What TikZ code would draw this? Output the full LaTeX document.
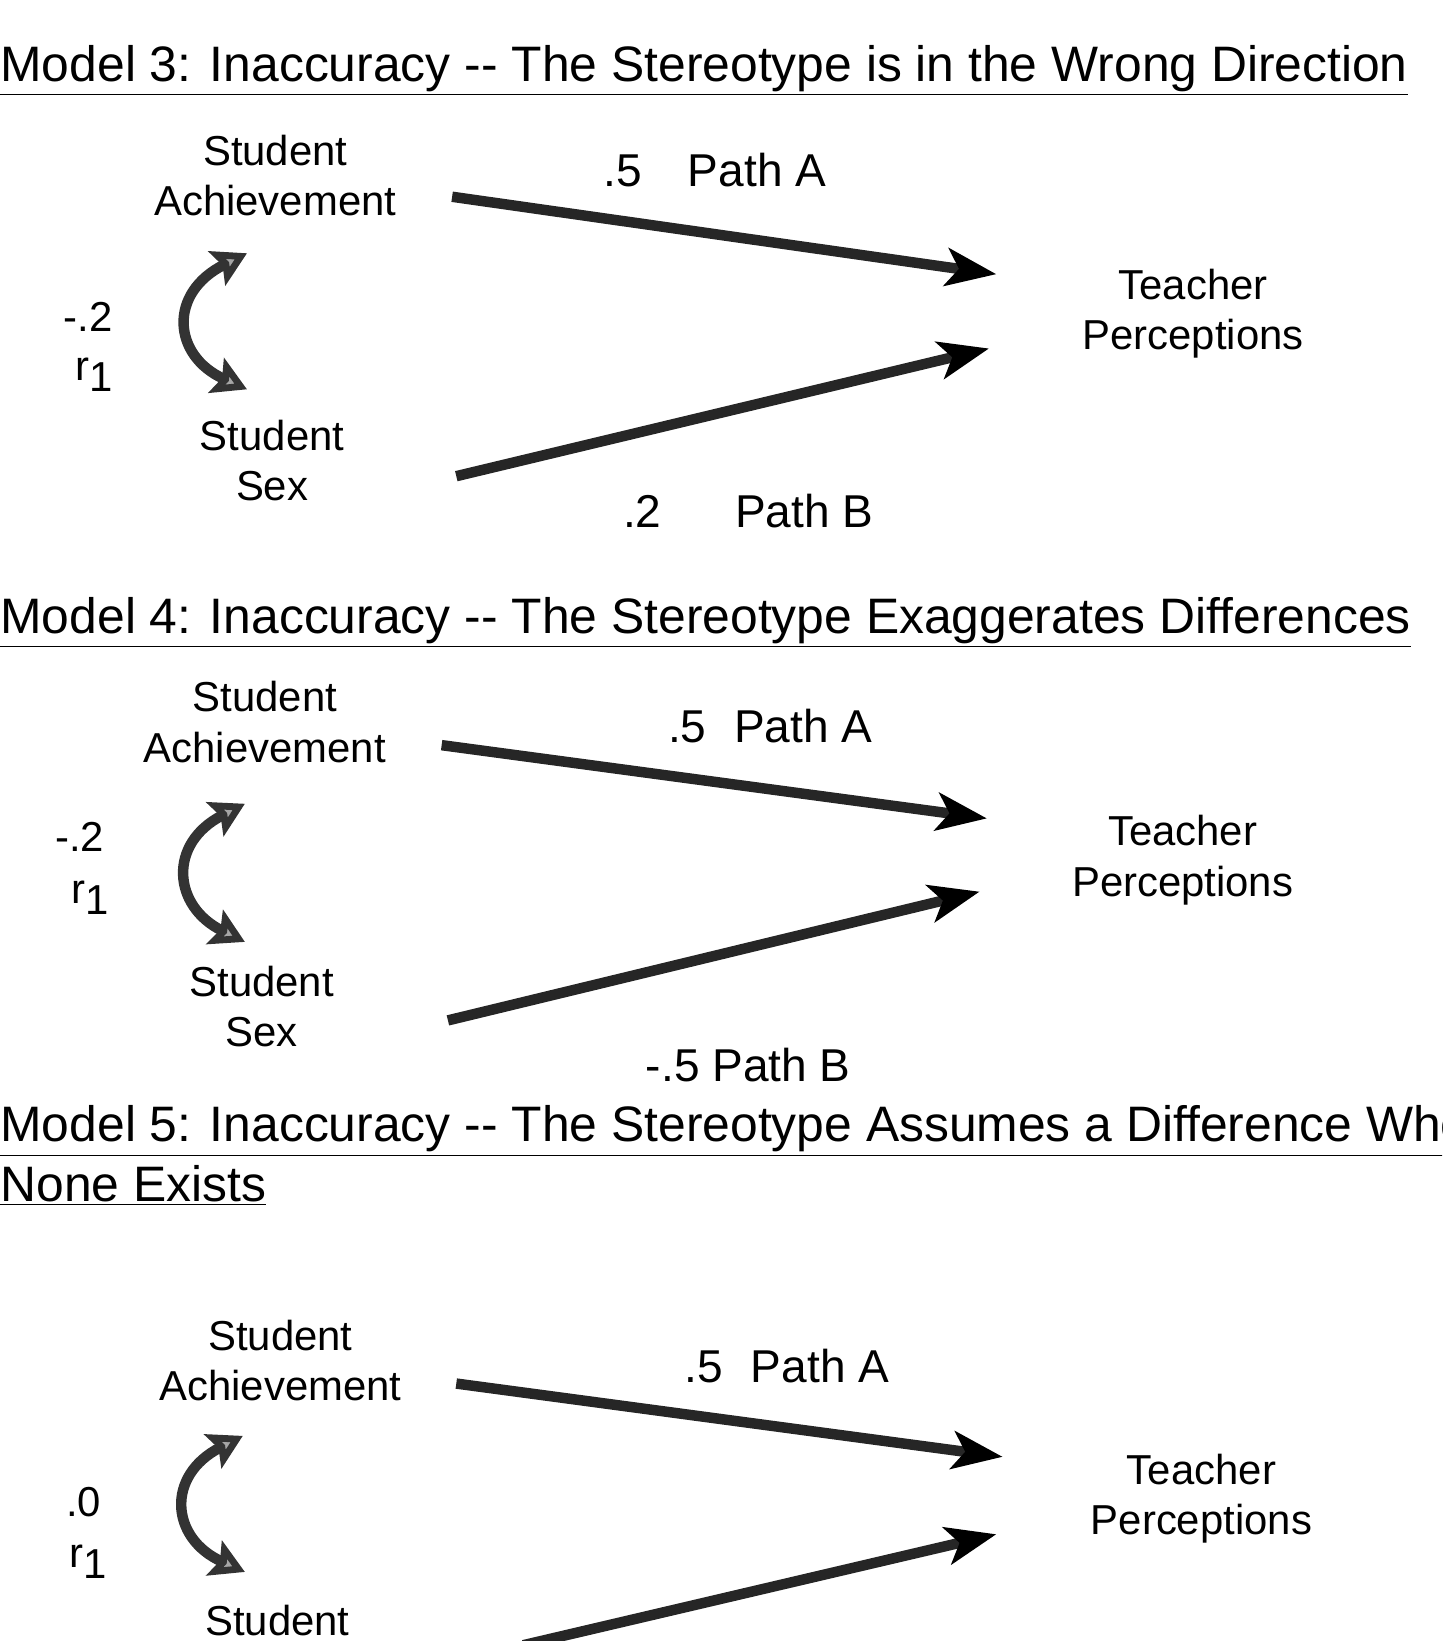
\documentclass[tikz,border=0pt]{standalone}
\usepackage{fontspec}
\setmainfont{Liberation Sans}
\usetikzlibrary{arrows.meta}
\tikzset{
 lbl/.style={font=\fontsize{20}{24}\selectfont, align=center, inner sep=0pt},
 ttl/.style={font=\fontsize{23.8}{28.5}\selectfont, anchor=base west, inner sep=0pt, align=left},
 patharrow/.style={draw=black!85, line width=5pt, -{Stealth[length=24pt,width=18pt,inset=6pt,fill=gray!70,color=black]}},
 corr/.style={draw=black!80, line width=5pt, {Stealth[length=16pt,width=18pt,inset=3pt,fill=gray!70]}-{Stealth[length=16pt,width=18pt,inset=3pt,fill=gray!70]}},
}
\newcommand{\rone}{r\raisebox{-0.5ex}{1}}
\begin{document}
\begin{tikzpicture}[x=0.5pt,y=-0.5pt]
\useasboundingbox (0,0) rectangle (1378,1568);
\clip (0,0) rectangle (1378,1568);
% Model 3
\node[ttl] (t3) at (0,78) {\underline{Model 3: Inaccuracy -{}- The Stereotype is in the Wrong Direction}};
\node[lbl] (sa3) at (263,168) {Student\\Achievement};
\node[lbl] (ss3) at (260,440) {Student\\Sex};
\node[lbl] (tp3) at (1140,300) {Teacher\\Perceptions};
\coordinate (a3s) at (432,188); \coordinate (a3e) at (952,262);
\coordinate (b3s) at (436,455); \coordinate (b3e) at (945,333);
\draw[patharrow] (a3s) -- (a3e);
\draw[patharrow] (b3s) -- (b3e);
\node[lbl,font=\fontsize{22}{26}\selectfont] (pa3) at (683,162) {.5\hspace{1em}Path A};
\node[lbl,font=\fontsize{22}{26}\selectfont] (pb3) at (715,488) {.2\hspace{1.6em}Path B};
\coordinate (c3s) at (236,242); \coordinate (c3e) at (236,372);
\draw[corr] (c3s) .. controls (160,280) and (165,340) .. (c3e);
\node[lbl] (v3) at (84,303) {-.2};
\node[lbl] (r3) at (90,358) {\rone};
% Model 4
\node[ttl] (t4) at (0,605) {\underline{Model 4: Inaccuracy -{}- The Stereotype Exaggerates Differences}};
\node[lbl] (sa4) at (253,690) {Student\\Achievement};
\node[lbl] (ss4) at (250,962) {Student\\Sex};
\node[lbl] (tp4) at (1130,822) {Teacher\\Perceptions};
\coordinate (a4s) at (422,712); \coordinate (a4e) at (943,782);
\coordinate (b4s) at (428,975); \coordinate (b4e) at (936,852);
\draw[patharrow] (a4s) -- (a4e);
\draw[patharrow] (b4s) -- (b4e);
\node[lbl,font=\fontsize{22}{26}\selectfont] (pa4) at (736,694) {.5\hspace{0.6em}Path A};
\node[lbl,font=\fontsize{22}{26}\selectfont] (pb4) at (715,1018) {-.5 Path B};
\coordinate (c4s) at (234,768); \coordinate (c4e) at (234,900);
\draw[corr] (c4s) .. controls (160,806) and (165,866) .. (c4e);
\node[lbl] (v4) at (76,800) {-.2};
\node[lbl] (r4) at (86,858) {\rone};
% Model 5
\node[ttl] (t5) at (0,1148) {\underline{Model 5: Inaccuracy -{}- The Stereotype Assumes a Difference When}\\\underline{None Exists}};
\node[lbl] (sa5) at (268,1300) {Student\\Achievement};
\node[lbl] (ss5) at (265,1572) {Student\\Sex};
\node[lbl] (tp5) at (1148,1432) {Teacher\\Perceptions};
\coordinate (a5s) at (436,1322); \coordinate (a5e) at (958,1392);
\coordinate (b5s) at (500,1572); \coordinate (b5e) at (952,1466);
\draw[patharrow] (a5s) -- (a5e);
\draw[patharrow] (b5s) -- (b5e);
\node[lbl,font=\fontsize{22}{26}\selectfont] (pa5) at (752,1305) {.5\hspace{0.6em}Path A};
\coordinate (c5s) at (232,1372); \coordinate (c5e) at (234,1502);
\draw[corr] (c5s) .. controls (158,1410) and (163,1470) .. (c5e);
\node[lbl] (v5) at (80,1435) {.0};
\node[lbl] (r5) at (84,1492) {\rone};
\end{tikzpicture}
\end{document}
